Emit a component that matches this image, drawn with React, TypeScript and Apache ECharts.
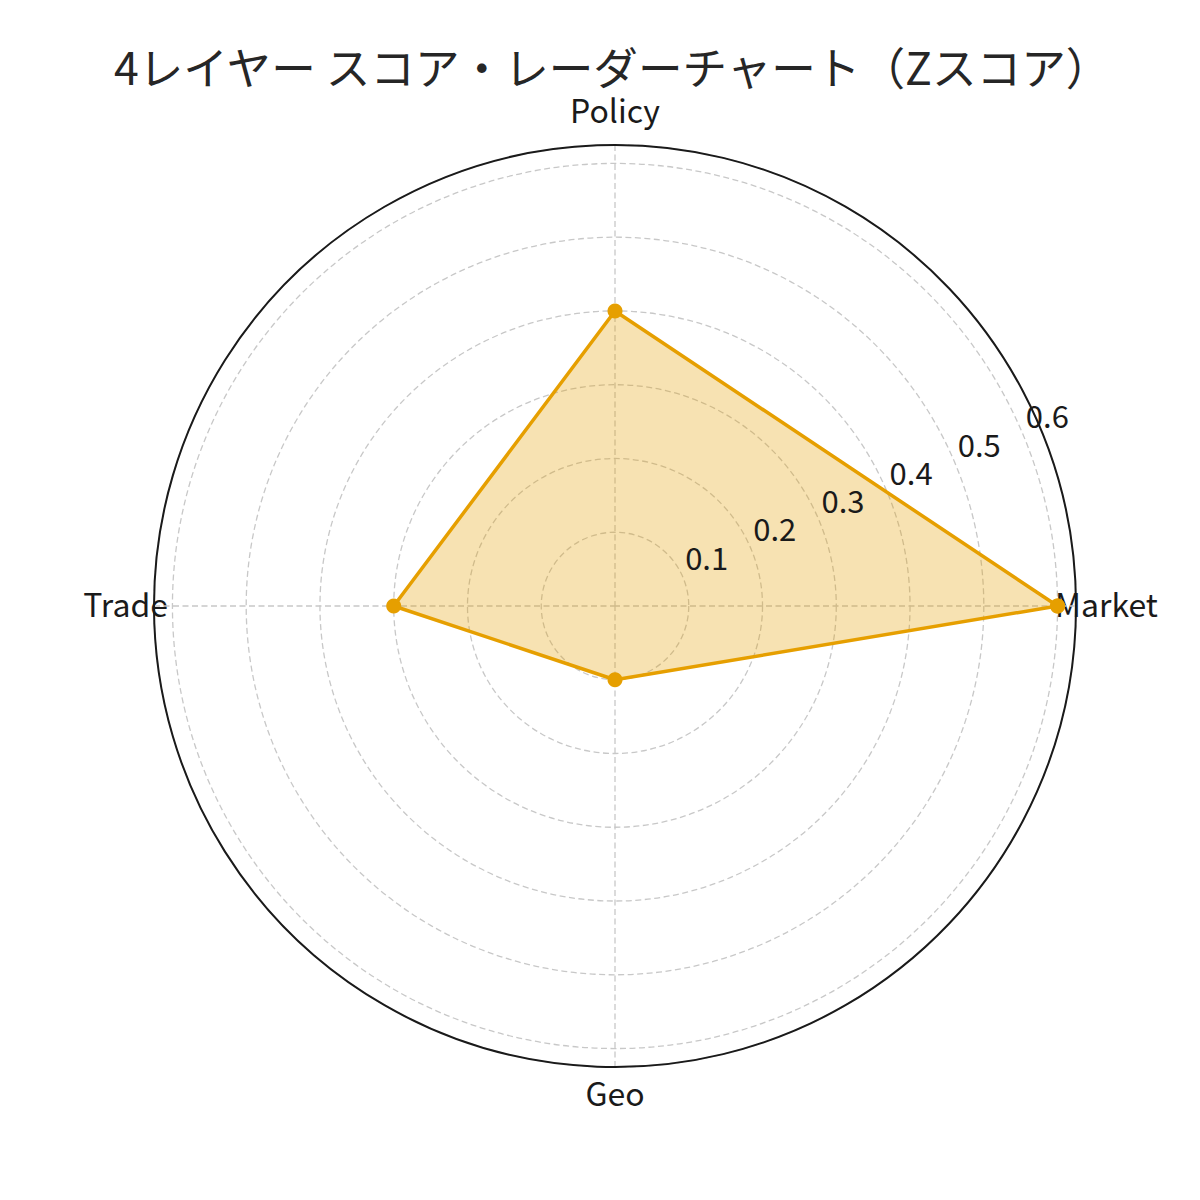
import React, { useEffect, useRef } from "react";
import * as echarts from "echarts";

// Layers (counter-clockwise from the right)
const layers = ["Market", "Policy", "Trade", "Geo"];
// Z scores per layer
const scores = [0.6, 0.4, 0.3, 0.1];
// radial tick labels
const radialTicks = [0.1, 0.2, 0.3, 0.4, 0.5, 0.6];

const titleText = "4レイヤー スコア・レーダーチャート（Zスコア）";
const FONT = "Noto Sans CJK JP";
const ORANGE = "#E69F00";
const STEP = 360 / layers.length;

const App: React.FC = () => {
  const chartRef = useRef<HTMLDivElement>(null);

  useEffect(() => {
    document.body.style.margin = "0";
    if (!chartRef.current) return;
    const chart = echarts.init(chartRef.current, undefined, { renderer: "svg" });

    // [radius, angle], closed back to the first layer
    const points = scores.map((s, i) => [s, i * STEP]);
    points.push([scores[0], 0]);

    const labelStyle = { fontSize: 32, color: "#1a1a1a", fontFamily: FONT };

    const option: echarts.EChartsOption = {
      animation: false,
      backgroundColor: "#ffffff",
      textStyle: { fontFamily: FONT },
      title: {
        text: titleText,
        left: 114,
        top: 43,
        padding: 0,
        textStyle: {
          fontFamily: FONT,
          fontSize: 44.6,
          lineHeight: 44,
          fontWeight: "normal",
          color: "#262626",
        },
      },
      polar: [
        { center: [615, 606], radius: 461 },
        { center: [615, 606], radius: [30, 491] },
      ],
      angleAxis: [
        {
          polarIndex: 0,
          type: "value",
          min: 0,
          max: 360,
          interval: STEP,
          startAngle: 0,
          clockwise: false,
          axisLine: { lineStyle: { color: "#1a1a1a", width: 2 } },
          axisTick: { show: false },
          axisLabel: {
            margin: -21,
            ...labelStyle,
            formatter: (v: number) => {
              const i = Math.round(v / STEP);
              if (i >= layers.length) return "";
              return `{l${i}|${layers[i]}}`;
            },
            rich: {
              l0: { ...labelStyle, padding: [0, 0, 7, 0] },
              l1: { ...labelStyle, padding: [0, 0, 41, 0] },
              l2: { ...labelStyle, padding: [0, 7, 7, 0] },
              l3: { ...labelStyle, padding: [30, 0, 0, 0] },
            },
          },
          splitLine: {
            show: true,
            lineStyle: { color: "#c8c8c8", width: 1.3, type: [6, 3.5] },
          },
        },
        {
          polarIndex: 1,
          type: "value",
          startAngle: 22.5,
          show: false,
        },
      ],
      radiusAxis: [
        {
          polarIndex: 0,
          type: "value",
          min: 0,
          max: 0.625,
          interval: 0.1,
          axisLine: { show: false },
          axisTick: { show: false },
          axisLabel: { show: false },
          splitLine: {
            show: true,
            lineStyle: { color: "#c8c8c8", width: 1.3, type: [6, 3.5] },
          },
        },
        {
          polarIndex: 1,
          type: "value",
          min: 0,
          max: 0.625,
          interval: 0.1,
          z: 10,
          axisLine: { show: false },
          axisTick: { show: false },
          splitLine: { show: false },
          axisLabel: {
            margin: 11,
            align: "center",
            verticalAlign: "middle",
            fontSize: 31,
            color: "#1a1a1a",
            fontFamily: FONT,
            formatter: (v: number) => {
              const hit = radialTicks.find((t) => Math.abs(t - v) < 1e-6);
              return hit !== undefined ? hit.toFixed(1) : "";
            },
          },
        },
      ],
      series: [
        {
          type: "line",
          coordinateSystem: "polar",
          polarIndex: 0,
          data: points,
          symbol: "circle",
          symbolSize: 15,
          itemStyle: { color: ORANGE },
          lineStyle: { color: ORANGE, width: 3.5 },
          areaStyle: { color: ORANGE, opacity: 0.3 },
          clip: false,
          z: 2,
        },
      ],
    };

    chart.setOption(option);
    return () => {
      chart.dispose();
    };
  }, []);

  return <div ref={chartRef} style={{ width: "1200px", height: "1200px" }} />;
};

export default App;
